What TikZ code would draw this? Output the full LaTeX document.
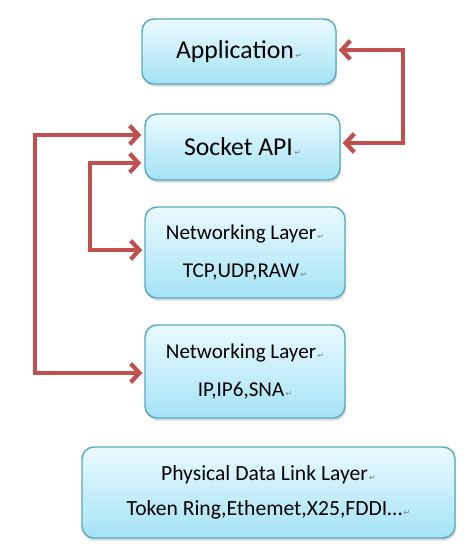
\documentclass[tikz,border=0pt]{standalone}
\usepackage{fontspec}
\setmainfont{Carlito}
\newfontfamily\markfont{DejaVu Sans}
\usetikzlibrary{arrows.meta,shadows,calc}

\definecolor{boxline}{RGB}{86,170,194}
\definecolor{boxtop}{RGB}{234,250,254}
\definecolor{boxbottom}{RGB}{164,227,245}
\definecolor{linkred}{RGB}{192,80,77}

\newcommand{\pmark}{{\markfont\fontsize{6}{6}\selectfont\color{gray}\,↵}}

\tikzset{
  layerbox/.style={draw=boxline, line width=1.1pt, rounded corners=9pt,
    top color=boxtop, bottom color=boxbottom, align=center, inner sep=0pt,
    drop shadow={shadow xshift=0.8pt, shadow yshift=-2pt, opacity=0.3}},
  link/.style={draw=linkred, line width=3.2pt,
    {Straight Barb[length=6.5pt,width=14pt]}-{Straight Barb[length=6.5pt,width=14pt]}},
}

\begin{document}
\begin{tikzpicture}[x=0.75pt,y=0.75pt,yscale=-1,xscale=1]
%set diagram left start at 0, and has height of 560
\path[use as bounding box] (0,0) rectangle (474,560);

% Text Node
\node[layerbox, minimum width=145.5pt, minimum height=48.75pt, font=\fontsize{19.3}{22}\selectfont] (app) at (239,51.5) {Application\pmark};
% Text Node
\node[layerbox, minimum width=146.25pt, minimum height=49.5pt, font=\fontsize{19.3}{22}\selectfont] (sock) at (242.5,147) {Socket API\pmark};
% Text Node
\node[layerbox, minimum width=150pt, minimum height=68.25pt, font=\fontsize{15.8}{28}\selectfont] (tcp) at (245,252.5) {Networking Layer\pmark\\TCP,UDP,RAW\pmark};
% Text Node
\node[layerbox, minimum width=150pt, minimum height=69.75pt, font=\fontsize{15.8}{28}\selectfont] (ip) at (245,371.5) {Networking Layer\pmark\\IP,IP6,SNA\pmark};
% Text Node
\node[layerbox, minimum width=279.75pt, minimum height=68.25pt, font=\fontsize{16.2}{26}\selectfont] (phy) at (268.5,492.5) {Physical Data Link Layer\pmark\\Token Ring,Ethemet,X25,FDDI…\pmark};

%Straight Lines
\coordinate (rightbend) at (403,100);
\coordinate (outerbend) at (35,250);
\coordinate (innerbend) at (90,200);
\draw[link] ($(app.east)+(2,-1.5)$) -| (rightbend) |- ($(sock.east)+(2,-4)$);
\draw[link] ($(sock.west)+(-3,-12)$) -| (outerbend) |- ($(ip.west)+(-2,1.5)$);
\draw[link] ($(sock.west)+(-3,16)$) -| (innerbend) |- ($(tcp.west)+(-2,-2.5)$);

\end{tikzpicture}
\end{document}
